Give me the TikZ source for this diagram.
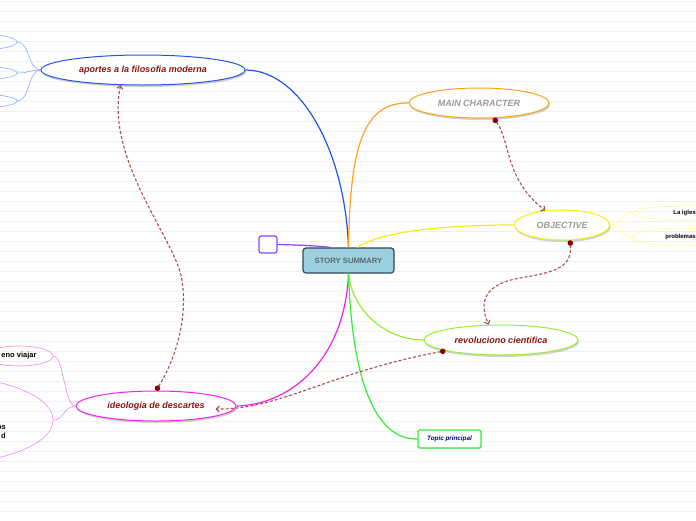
\documentclass[tikz,border=0pt]{standalone}
\usepackage{fontspec}
\setmainfont{Liberation Sans}
\usepackage{xcolor}
\usepackage{tikz}
\usetikzlibrary{shapes.geometric, arrows.meta, shadows}

\definecolor{bluebr}{HTML}{2255EE}
\definecolor{bluesub}{HTML}{88AAFF}
\definecolor{orangebr}{HTML}{FFA020}
\definecolor{yellowbr}{HTML}{F0F010}
\definecolor{yellowsub}{HTML}{FFFF88}
\definecolor{limebr}{HTML}{99EE33}
\definecolor{greenbr}{HTML}{33EE33}
\definecolor{magbr}{HTML}{EE22EE}
\definecolor{magsub}{HTML}{F088F0}
\definecolor{purplebr}{HTML}{8844FF}
\definecolor{relline}{HTML}{A85050}
\definecolor{reldot}{HTML}{8B0000}
\definecolor{txtred}{HTML}{8B1212}
\definecolor{txtgray}{HTML}{9A9A9A}
\definecolor{storyfill}{HTML}{9DD0DE}
\definecolor{storyline}{HTML}{2E4A5A}
\definecolor{storytxt}{HTML}{5A6A70}
\definecolor{rule}{HTML}{F0F0F0}

\begin{document}
\begin{tikzpicture}[x=1pt,y=-1pt,
    main/.style={ellipse,draw,line width=1pt,fill=white,inner sep=0pt,
        minimum width=#1,minimum height=30,
        font=\fontsize{9}{10}\selectfont\bfseries\itshape,
        drop shadow={shadow xshift=1pt,shadow yshift=-2pt,opacity=.35}},
    sub/.style={ellipse,draw,line width=.6pt,inner sep=0pt,
        font=\fontsize{6}{7}\selectfont\bfseries},
    branch/.style={line width=1.2pt},
    twig/.style={line width=.6pt},
    rel/.style={relline,line width=1.1pt,dash pattern=on 3pt off 2pt,
        arrows={Circle[length=5.5pt,width=5.5pt,color=reldot]-Straight Barb[length=3pt,width=6pt]}}]

    % page and ruled background
    \useasboundingbox (0,0) rectangle (696,520);
    \clip (0,0) rectangle (696,520);
    \fill[white] (0,0) rectangle (696,520);
    \foreach \y in {1,11,...,511}
        \draw[rule,line width=.8pt] (0,\y) -- (696,\y);

    % central topic
    \node[rectangle,rounded corners=3pt,draw=storyline,line width=1.2pt,
          fill=storyfill,minimum width=91,minimum height=25,
          text=storytxt,font=\fontsize{7.7}{8}\selectfont\bfseries] (story) at (348.5,260.5) {STORY SUMMARY};
    \node[rectangle,rounded corners=2.5pt,draw=purplebr,line width=1.2pt,fill=white,
          minimum width=18,minimum height=17] (box) at (268,244.5) {};

    % main topics
    \node[main=204,draw=bluebr,text=txtred] (aportes) at (143,70) {aportes a la filosofia moderna};
    \node[main=140,draw=orangebr,text=txtgray] (mainchar) at (479,103) {MAIN CHARACTER};
    \node[main=95,draw=yellowbr,text=txtgray] (objective) at (562,225) {OBJECTIVE};
    \node[main=154,draw=limebr,text=txtred] (revol) at (501,340) {revoluciono cientifica};
    \node[main=160,draw=magbr,text=txtred] (ideo) at (156,406) {ideologia de descartes};
    \node[rectangle,rounded corners=1.5pt,draw=greenbr,line width=1.2pt,fill=white,
          minimum width=63,minimum height=18,text=blue!50!black,
          font=\fontsize{6.3}{7}\selectfont\bfseries\itshape,
          drop shadow={shadow xshift=.5pt,shadow yshift=-1pt,opacity=.25}] (topic) at (449.5,439) {Topic principal};

    % subtopics
    \node[sub,draw=bluesub,minimum width=80,minimum height=16] (b1) at (-23,42) {};
    \node[sub,draw=bluesub,minimum width=80,minimum height=14] (b2) at (-23,73) {};
    \node[sub,draw=bluesub,minimum width=80,minimum height=14] (b3) at (-23,101) {};
    \node[sub,draw=yellowsub,minimum width=110,minimum height=14] (y1) at (687,213) {La iglesia};
    \node[sub,draw=yellowsub,minimum width=97,minimum height=18] (y2) at (680.5,237) {problemas};
    \node[sub,draw=magsub,minimum width=68,minimum height=20,
          font=\fontsize{7.5}{9}\selectfont\bfseries] (m1) at (19,356) {eno viajar};
    \node[sub,draw=magsub,minimum width=226,minimum height=88] (m2) at (-60,420) {};
    \node[anchor=east,align=right,inner sep=0pt,
          font=\fontsize{7.5}{9}\selectfont\bfseries] (m2txt) at (6,432) {os\\d};

    % branches
    \draw[branch,bluebr] (story.north) .. controls (345,150) and (300,70) .. (aportes.east);
    \draw[branch,orangebr] (story.north) .. controls (350,150) and (362,102) .. (mainchar.west);
    \draw[branch,yellowbr] ([xshift=9pt]story.north) .. controls (380,232) and (440,225) .. (objective.west);
    \draw[branch,purplebr] (box.east) .. controls (300,245) and (320,246) .. ([xshift=-18pt]story.north);
    \draw[branch,magbr] (story.south) .. controls (345,360) and (290,405) .. (ideo.east);
    \draw[branch,limebr] (story.south) .. controls (352,310) and (385,340) .. (revol.west);
    \draw[branch,greenbr] (story.south) .. controls (352,380) and (375,440) .. (topic.west);

    % twigs
    \foreach \s in {b1,b2,b3}
        \draw[twig,bluesub] (aportes.west) .. controls (28,70) and (30,0|-\s.east) .. (\s.east);
    \foreach \s in {y1,y2}
        \draw[twig,yellowsub] (objective.east) .. controls (622,225) and (620,0|-\s.west) .. (\s.west);
    \foreach \s in {m1,m2}
        \draw[twig,magsub] (ideo.west) .. controls (64,406) and (64,0|-\s.east) .. (\s.east);

    % relationships
    \draw[rel] (ideo.north) .. controls (175,360) and (188,320) .. (182,280)
        .. controls (176,240) and (105,160) .. (aportes.214);
    \draw[rel] (mainchar.314) .. controls (510,140) and (505,180) .. (objective.139);
    \draw[rel] (objective.298) .. controls (572,268) and (555,272) .. (520,278)
        .. controls (486,284) and (478,300) .. (revol.129);
    \draw[rel] (revol.191) .. controls (330,372) and (280,410) .. ([xshift=-21pt,yshift=-3pt]ideo.east);
\end{tikzpicture}
\end{document}
